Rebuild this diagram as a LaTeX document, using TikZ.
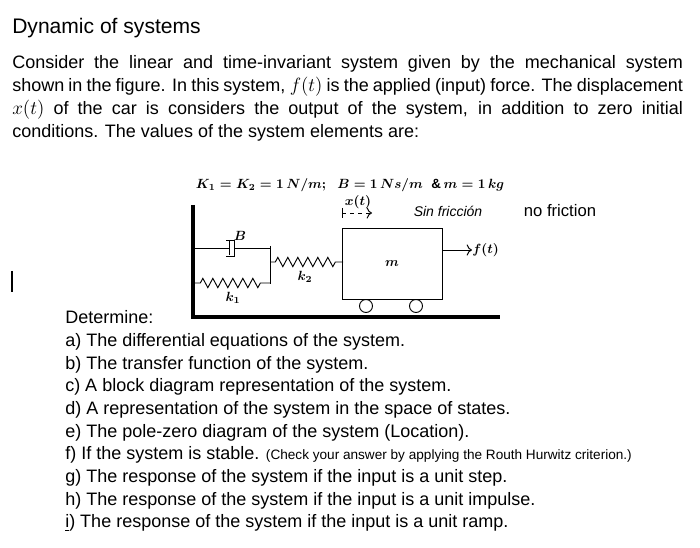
\documentclass[tikz,border=0pt]{standalone}
\usepackage{fontspec}
\setmainfont{Liberation Sans}
\usepackage{amsmath}
\usetikzlibrary{decorations.pathmorphing,arrows.meta}
\begin{document}
\begin{tikzpicture}[x=0.75pt,y=-0.75pt,
  txt/.style={anchor=base west,inner sep=0pt,font=\fontsize{13.5}{16}\selectfont},
  lbl/.style={inner sep=0pt,font=\fontsize{10}{12}\selectfont\boldmath},
  spring/.style={decorate,decoration={zigzag,segment length=7.5,amplitude=3.5,pre length=4,post length=4}},
  thin/.style={line width=0.7pt}]
\useasboundingbox (0,0) rectangle (700,548);
\node[txt,font=\fontsize{15.8}{18}\selectfont] (title) at (12,34) {Dynamic of systems};
\node[txt] (p1) at (12,69) {\makebox[503pt][s]{Consider the linear and time-invariant system given by the mechanical system}};
\node[txt] (p2) at (12,92) {\makebox[503pt][s]{shown in the figure. In this system, $f(t)$ is the applied (input) force. The displacement}};
\node[txt] (p3) at (12,115) {\makebox[503pt][s]{$x(t)$ of the car is considers the output of the system, in addition to zero initial}};
\node[txt] (p4) at (12,138) {conditions. The values of the system elements are:};
\node[lbl,anchor=base] (eq) at (350,189) {$K_1=K_2=1\,N/m;\;\; B=1\,Ns/m\;\;\&\,m=1\,kg$};
% figure
\draw[line width=3pt] (193,205) -- (193,317) -- (500,317);
\draw[thin] (195,248) -- (230,248);
\draw[thin] (229,241) -- (229,255);
\draw[thin] (234,240) -- (226,240) (234,240) -- (234,256) -- (226,256);
\draw[thin] (234,248) -- (270,248);
\draw[thin] (270,246) -- (270,284);
\draw[thin,spring] (195,283) -- (270,283);
\draw[thin,spring] (270,262) -- (343,262);
\node[lbl] (B) at (240,236) {$B$};
\node[lbl] (k1) at (233,298) {$k_1$};
\node[lbl] (k2) at (305,277) {$k_2$};
\node[draw,thin,minimum width=75pt,minimum height=53pt,inner sep=0pt] (m) at (392,264) {};
\node[lbl] at (m) {$m$};
\draw[thin] (366,306) circle (6.5);
\draw[thin] (416,306) circle (6.5);
\coordinate (fa) at (442,250);
\coordinate (fb) at (472,250);
\draw[thin,-{To[length=4pt]}] (fa) -- (fb);
\node[lbl,anchor=west] (f) at (fb) {$f(t)$};
\draw[thin] (342,208) -- (342,218);
\draw[thin,dashed,-{To[length=4pt]}] (342,213) -- (372,213);
\node[lbl] (x) at (358,202) {$x(t)$};
\node[inner sep=0pt,font=\fontsize{10.5}{12}\selectfont\itshape] (sf) at (448,211) {Sin fricción};
\node[inner sep=0pt,font=\fontsize{12.5}{14}\selectfont] (nf) at (560,211) {no friction};
\draw[line width=0.8pt] (12,271) -- (12,292);
% list
\node[txt] (d0) at (65,324) {Determine:};
\node[txt] (d1) at (65,347) {a) The differential equations of the system.};
\node[txt] (d2) at (65,370) {b) The transfer function of the system.};
\node[txt] (d3) at (65,392) {c) A block diagram representation of the system.};
\node[txt] (d4) at (65,415) {d) A representation of the system in the space of states.};
\node[txt] (d5) at (65,438) {e) The pole-zero diagram of the system (Location).};
\node[txt] (d6) at (65,460) {f) If the system is stable. {\fontsize{10.2}{12}\selectfont(Check your answer by applying the Routh Hurwitz criterion.)}};
\node[txt] (d7) at (65,483) {g) The response of the system if the input is a unit step.};
\node[txt] (d8) at (65,506) {h) The response of the system if the input is a unit impulse.};
\node[txt] (d9) at (65,528) {\underline{i}) The response of the system if the input is a unit ramp.};
\end{tikzpicture}
\end{document}
